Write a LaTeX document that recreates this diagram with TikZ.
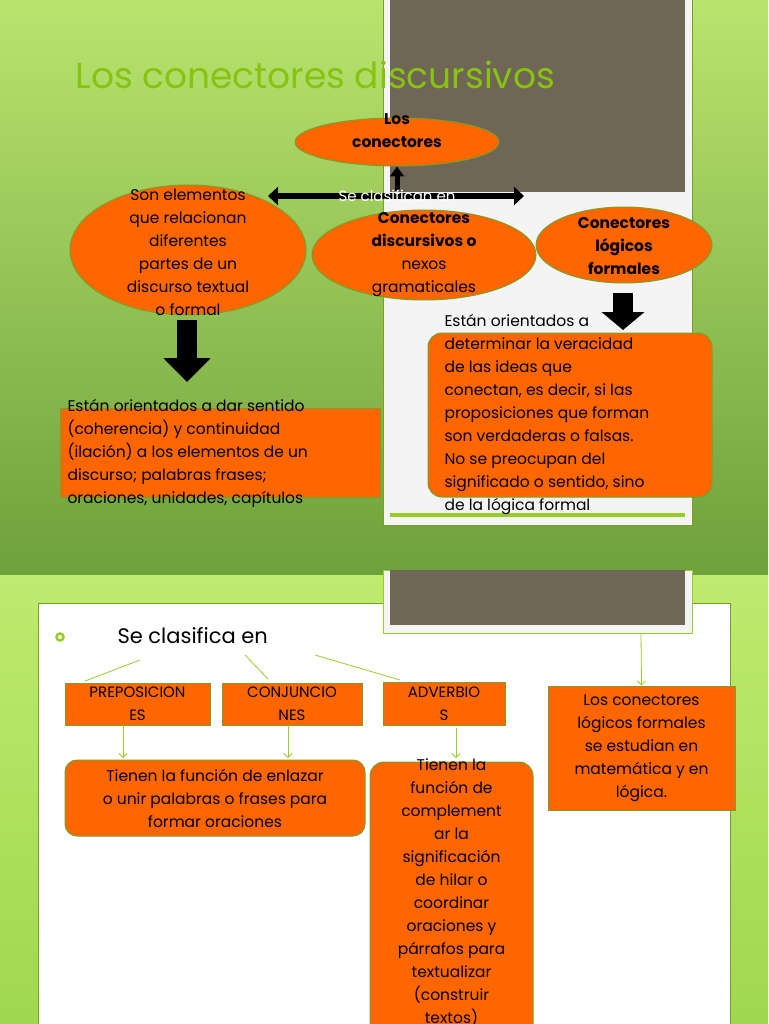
\documentclass[tikz,border=0pt]{standalone}
\usepackage{fontspec}
\setmainfont{Poppins}
\usetikzlibrary{shapes.geometric,arrows.meta}
\definecolor{og}{RGB}{255,102,0}
\definecolor{gb}{RGB}{120,160,40}
\definecolor{lg}{RGB}{150,205,40}
\definecolor{tg}{RGB}{135,195,15}
\definecolor{dk}{RGB}{112,102,86}
\tikzset{
 ell/.style={ellipse,fill=og,draw=gb,line width=1pt},
 obox/.style={fill=og,draw=gb,line width=1pt},
 txt/.style={font=\fontsize{15.5}{23}\selectfont,text=black},
 btxt/.style={font=\fontsize{15.5}{23}\selectfont\bfseries,text=black},
 garr/.style={draw=lg,line width=0.8pt,-{Straight Barb[length=4pt]}},
 gln/.style={draw=lg,line width=0.8pt}
}
\begin{document}
\begin{tikzpicture}[x=1pt,y=-1pt]
\useasboundingbox (0,0) rectangle (768,1024);
% backgrounds
\shade[top color={rgb,255:red,185;green,228;blue,110},bottom color={rgb,255:red,110;green,160;blue,60}] (0,0) rectangle (768,575);
\shade[top color={rgb,255:red,190;green,235;blue,110},bottom color={rgb,255:red,160;green,215;blue,80}] (0,575) rectangle (768,1024);
% right panel
\draw[fill={rgb,255:red,244;green,244;blue,244},draw=gb,line width=1pt] (383,-2) rectangle (692,525);
\fill[dk] (390,-2) rectangle (685,192);
\draw[lg,line width=4pt] (390,515) -- (685,515);
\node[anchor=west,text=tg,font=\fontsize{36}{40}\selectfont] (title) at (72,75) {Los conectores discursivos};
% ellipses
\node[ell,minimum width=204pt,minimum height=48pt] (e0) at (397,142) {};
\node[btxt,align=center] (t0) at (397,131) {Los\\conectores};
\node[ell,minimum width=236pt,minimum height=130pt] (e1) at (188,250) {};
\node[txt,align=center] (t1) at (188,252) {Son elementos\\que relacionan\\diferentes\\partes de un\\discurso textual\\o formal};
\node[ell,minimum width=224pt,minimum height=90pt] (e2) at (424,255) {};
\node[txt,align=center] (t2) at (424,255) {\textbf{Conectores}\\\textbf{discursivos o}\\nexos\\gramaticales};
\node[ell,minimum width=176pt,minimum height=76pt] (e3) at (624,245) {};
\node[btxt,align=center] (t3) at (624,246) {Conectores\\lógicos\\formales};
% black arrows
\coordinate (ua) at (397,191);
\draw[line width=5pt,-{Triangle[length=10pt,width=14pt]}] (ua) -- (e0.south);
\coordinate (hl) at (268,196); \coordinate (hr) at (524,196);
\draw[line width=6pt,{Triangle[length=10pt,width=18pt]}-{Triangle[length=10pt,width=18pt]}] (hl) -- (hr);
\node[text=white,font=\fontsize{15}{18}\selectfont] (sc) at (397,196) {Se clasifican en};
\coordinate (d1) at (187,320); \coordinate (d1e) at (187,382);
\draw[line width=20pt,-{Triangle[length=24pt,width=46pt]}] (d1) -- (d1e);
\coordinate (d2) at (623,293); \coordinate (d2e) at (623,330);
\draw[line width=20pt,-{Triangle[length=18pt,width=42pt]}] (d2) -- (d2e);
% boxes top
\draw[obox] (60,408) rectangle (380,497);
\node[txt,anchor=north west,align=left] (t4) at (64,396) {Están orientados a dar sentido\\(coherencia) y continuidad\\(ilación) a los elementos de un\\discurso; palabras frases;\\oraciones, unidades, capítulos};
\draw[obox,rounded corners=14pt] (428,333) rectangle (712,497);
\node[txt,anchor=north west,align=left] (t5) at (441,311) {Están orientados a\\determinar la veracidad\\de las ideas que\\conectan, es decir, si las\\proposiciones que forman\\son verdaderas o falsas.\\No se preocupan del\\significado o sentido, sino\\de la lógica formal};
% bottom slide
\draw[fill=white,draw=gb,line width=1pt] (38,603) rectangle (730,1030);
\draw[fill={rgb,255:red,244;green,244;blue,244},draw=lg,line width=1pt] (383,570) rectangle (692,633);
\fill[dk] (390,570) rectangle (685,625);
\draw[lg,line width=2.5pt] (60,637) circle (3.5pt);
\node[anchor=west,font=\fontsize{21}{24}\selectfont] (sce) at (114,636) {Se clasifica en};
\node[obox,minimum width=145pt,minimum height=42pt,inner sep=0pt] (b1) at (137.5,704) {};
\node[obox,minimum width=140pt,minimum height=42pt,inner sep=0pt] (b2) at (292,704) {};
\node[obox,minimum width=122pt,minimum height=43pt,inner sep=0pt] (b3) at (444,703.5) {};
\node[txt,align=center,font=\fontsize{15}{23}\selectfont] at (b1) {PREPOSICION\\ES};
\node[txt,align=center,font=\fontsize{15}{23}\selectfont] at (b2) {CONJUNCIO\\NES};
\node[txt,align=center,font=\fontsize{15}{23}\selectfont] at (b3) {ADVERBIO\\S};
\coordinate (l1a) at (140,660); \coordinate (l1b) at (85,681);
\coordinate (l2a) at (245,655); \coordinate (l2b) at (268,679);
\coordinate (l3a) at (315,655); \coordinate (l3b) at (400,680);
\draw[gln] (l1a) -- (l1b); \draw[gln] (l2a) -- (l2b); \draw[gln] (l3a) -- (l3b);
\draw[obox,rounded corners=12pt] (65,760) rectangle (365,836);
\node[txt,align=center] (t6) at (215,798) {Tienen la función de enlazar\\o unir palabras o frases para\\formar oraciones};
\draw[obox,rounded corners=14pt] (370,762) rectangle (533,1040);
\node[txt,align=center,anchor=north] (t7) at (451.5,755) {Tienen la\\función de\\complement\\ar la\\significación\\de hilar o\\coordinar\\oraciones y\\párrafos para\\textualizar\\(construir\\textos)};
\node[obox,minimum width=187pt,minimum height=124pt] (b4) at (641.5,748) {};
\node[txt,align=center] (t8) at (b4) {Los conectores\\lógicos formales\\se estudian en\\matemática y en\\lógica.};
\coordinate (a1) at (123,725); \coordinate (a2) at (288,725); \coordinate (a3) at (456,728); \coordinate (a4) at (641,633);
\draw[garr] (a1) -- (123,758);
\draw[garr] (a2) -- (288,758);
\draw[garr] (a3) -- (456,758);
\draw[garr] (a4) -- (b4.north);
\end{tikzpicture}
\end{document}
